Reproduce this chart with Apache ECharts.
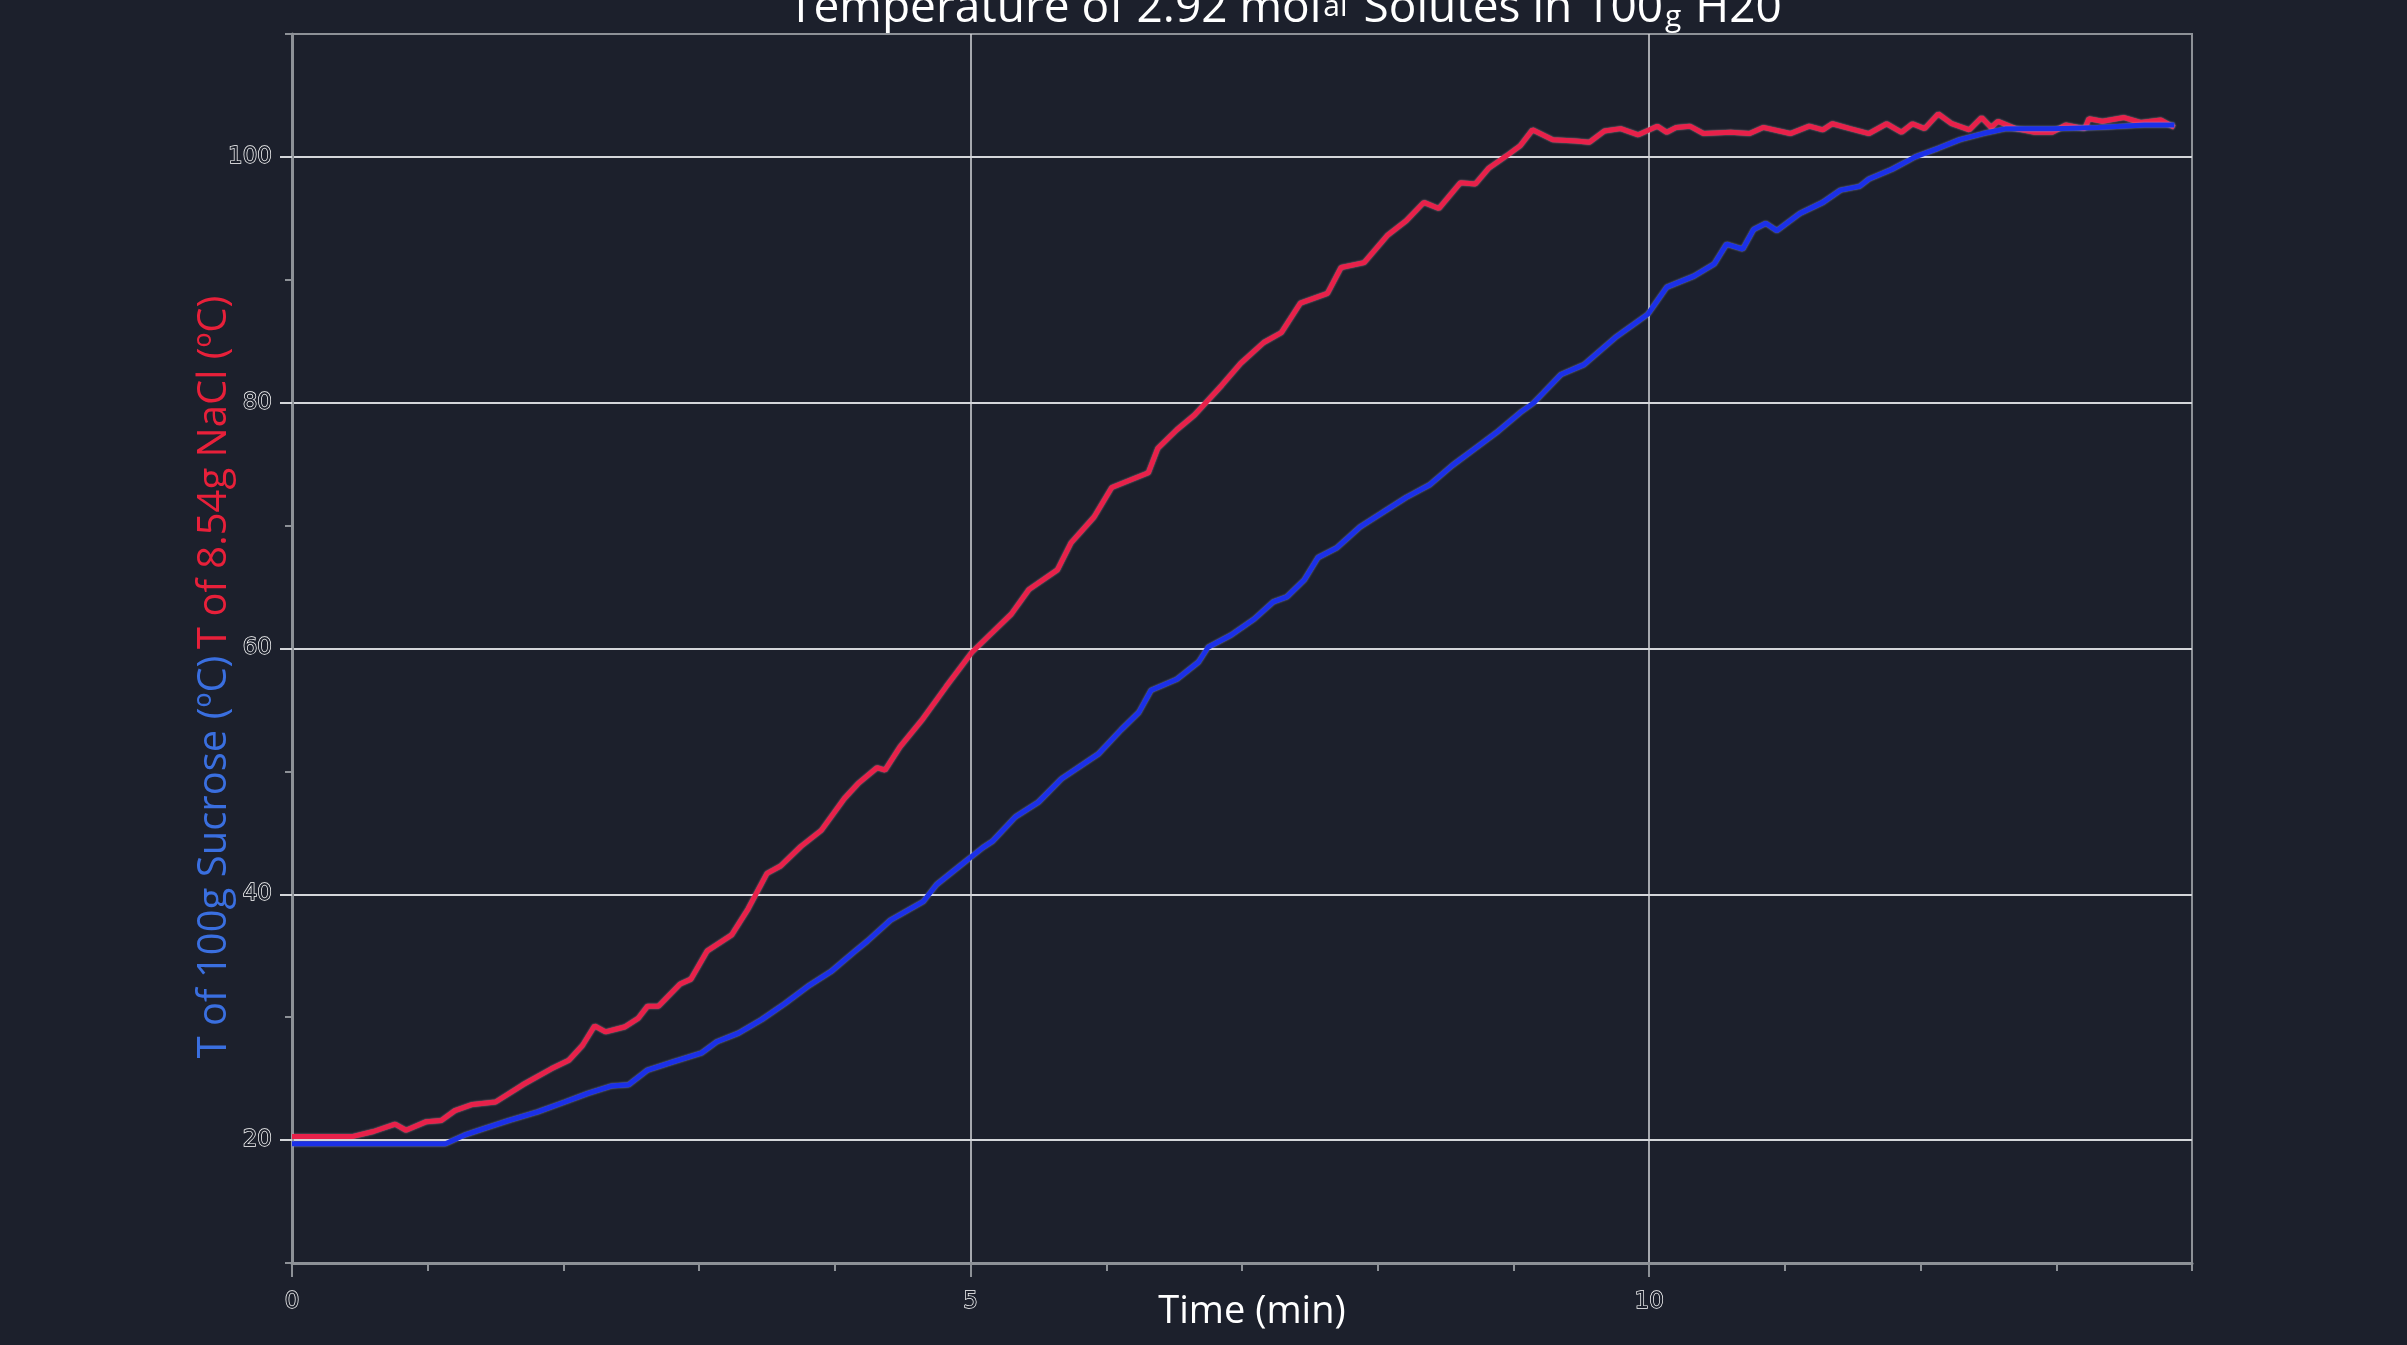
<!DOCTYPE html>
<html>
<head>
<meta charset="utf-8">
<script src="https://cdn.jsdelivr.net/npm/echarts@6/dist/echarts.min.js"></script>
<style>
html,body{margin:0;padding:0;background:#1c202c;}
#chart{width:2407px;height:1345px;}
</style>
</head>
<body>
<div id="chart"></div>
<script>
// ---- data (time in minutes, temperature in °C) ----
const naclTime = [0,0.2,0.45,0.6,0.76,0.84,0.99,1.1,1.2,1.33,1.5,1.7,1.91,2.04,2.14,2.23,2.31,2.45,2.55,2.62,2.7,2.86,2.94,3.06,3.24,3.36,3.5,3.6,3.75,3.9,4.07,4.17,4.31,4.37,4.48,4.65,4.82,5.01,5.16,5.3,5.43,5.64,5.74,5.91,6.04,6.31,6.38,6.52,6.65,6.85,6.99,7.16,7.29,7.43,7.63,7.73,7.9,8.07,8.21,8.34,8.45,8.61,8.72,8.82,8.95,9.05,9.14,9.29,9.46,9.56,9.67,9.79,9.92,10.06,10.13,10.2,10.3,10.4,10.6,10.74,10.84,11.04,11.18,11.28,11.35,11.48,11.62,11.75,11.86,11.94,12.03,12.13,12.23,12.36,12.45,12.52,12.57,12.7,12.84,12.97,13.07,13.21,13.24,13.34,13.5,13.62,13.77,13.87];
const naclTemp = [20.3,20.3,20.3,20.7,21.3,20.8,21.5,21.6,22.4,22.9,23.1,24.5,25.8,26.5,27.7,29.3,28.8,29.2,29.9,30.9,30.9,32.7,33.1,35.4,36.7,38.8,41.7,42.3,43.9,45.2,47.8,49.0,50.3,50.1,52.0,54.3,56.9,59.7,61.3,62.8,64.8,66.4,68.6,70.7,73.1,74.3,76.3,77.8,79.0,81.4,83.2,84.9,85.7,88.1,88.9,91.0,91.4,93.6,94.8,96.3,95.8,97.9,97.8,99.1,100.1,100.9,102.2,101.4,101.3,101.2,102.1,102.3,101.8,102.5,102.0,102.4,102.5,101.9,102.0,101.9,102.4,101.9,102.5,102.2,102.7,102.3,101.9,102.7,102.0,102.7,102.3,103.5,102.7,102.2,103.2,102.4,102.9,102.3,102.0,102.0,102.6,102.3,103.1,102.9,103.2,102.8,103.0,102.4];

const sucroseTime = [0,0.5,1.13,1.27,1.43,1.6,1.81,2.01,2.18,2.35,2.48,2.62,2.79,3.02,3.13,3.29,3.46,3.63,3.8,3.97,4.14,4.24,4.41,4.65,4.75,4.92,5.09,5.16,5.33,5.5,5.67,5.94,6.11,6.24,6.33,6.52,6.68,6.75,6.92,7.09,7.23,7.33,7.46,7.56,7.7,7.87,8.04,8.21,8.38,8.55,8.72,8.89,9.05,9.15,9.22,9.35,9.52,9.75,9.99,10.13,10.33,10.48,10.57,10.69,10.77,10.86,10.94,11.11,11.28,11.41,11.55,11.62,11.79,11.96,12.13,12.29,12.46,12.63,12.97,13.31,13.65,13.87];
const sucroseTemp = [19.7,19.7,19.7,20.4,21.0,21.6,22.3,23.1,23.8,24.4,24.5,25.7,26.3,27.1,28.0,28.7,29.8,31.1,32.5,33.7,35.3,36.2,37.9,39.4,40.8,42.3,43.8,44.3,46.3,47.5,49.4,51.4,53.4,54.8,56.6,57.5,58.9,60.1,61.1,62.4,63.8,64.2,65.6,67.4,68.2,69.9,71.1,72.3,73.3,74.9,76.3,77.7,79.2,80.0,80.8,82.3,83.1,85.3,87.2,89.4,90.3,91.3,92.9,92.5,94.1,94.6,94.0,95.4,96.3,97.3,97.6,98.2,99.0,100.0,100.7,101.4,101.9,102.3,102.3,102.4,102.6,102.6];

const xTickLabels = [0, 5, 10];
const yTickLabels = [20, 40, 60, 80, 100];

const titleParts = ['Temperature of 2.92 mol', 'al', ' Solutes in 100', 'g', ' H20'];
const xName = 'Time (min)';
const yNameSucrose = 'T of 100g Sucrose (ºC)';
const yNameNaCl = 'T of 8.54g NaCl (ºC)';

const BG = '#1c202c';
const AXIS = '#8d9197';
const GRID = '#d4d6da';
const RED = '#e8214a';
const BLUE = '#1b30e8';

function pairs(xs, ys) { return xs.map((x, i) => [x, ys[i]]); }

const outlined = {
  color: BG,
  textBorderColor: '#ffffff',
  textBorderWidth: 1.4,
  fontFamily: 'DejaVu Sans',
  fontSize: 23
};

const chart = echarts.init(document.getElementById('chart'), null, {renderer: 'canvas'});
chart.setOption({
  backgroundColor: BG,
  animation: false,
  grid: {left: 292, right: 215, top: 34, bottom: 82, show: true, borderColor: AXIS, borderWidth: 2, backgroundColor: 'transparent'},
  xAxis: [
    {
      type: 'value', min: 0, max: 14, interval: 1, position: 'bottom',
      axisLine: {show: true, lineStyle: {color: AXIS, width: 3}},
      axisTick: {show: true, length: 8, lineStyle: {color: AXIS, width: 2}},
      axisLabel: {show: false},
      splitLine: {show: false},
      name: xName, nameLocation: 'middle', nameGap: 30,
      nameTextStyle: {color: '#ffffff', fontSize: 38, fontFamily: 'Open Sans', padding: [0, 0, 0, 20]}
    },
    {
      type: 'value', min: 0, max: 14, position: 'bottom',
      axisLine: {show: false},
      axisTick: {show: true, customValues: xTickLabels, length: 14, lineStyle: {color: AXIS, width: 2}},
      axisLabel: Object.assign({customValues: xTickLabels, margin: 28}, outlined),
      splitLine: {show: true, lineStyle: {color: GRID, width: 1.5}}
    }
  ],
  yAxis: [
    {
      type: 'value', min: 10, max: 110, interval: 10, position: 'left',
      axisLine: {show: true, lineStyle: {color: AXIS, width: 3}},
      axisTick: {show: true, length: 7, lineStyle: {color: AXIS, width: 2}},
      axisLabel: {show: false},
      splitLine: {show: false}
    },
    {
      type: 'value', min: 10, max: 110, position: 'left',
      axisLine: {show: false},
      axisTick: {show: true, customValues: yTickLabels, length: 12, lineStyle: {color: GRID, width: 2}},
      axisLabel: Object.assign({customValues: yTickLabels, margin: 20}, outlined),
      splitLine: {show: true, lineStyle: {color: GRID, width: 2}}
    }
  ],
  graphic: [
    {
      type: 'text', x: 1285, y: -14,
      style: {
        text: '{n|' + titleParts[0] + '}{s|' + titleParts[1] + '}{n|' + titleParts[2] + '}{g|' + titleParts[3] + '}{n|' + titleParts[4] + '}',
        align: 'center', verticalAlign: 'top',
        rich: {
          n: {fontSize: 46, fontFamily: 'Open Sans', fill: '#ffffff', verticalAlign: 'bottom'},
          s: {fontSize: 30, fontFamily: 'Open Sans', fill: '#ffffff', verticalAlign: 'top', padding: [6, 4, 0, 2]},
          g: {fontSize: 30, fontFamily: 'Open Sans', fill: '#ffffff', verticalAlign: 'bottom', padding: [0, 2, 0, 2]}
        }
      }
    },
    {
      type: 'text', x: 215, y: 677, rotation: Math.PI / 2,
      style: {
        text: '{b|' + yNameSucrose + '}  {r|' + yNameNaCl + '}',
        align: 'center', verticalAlign: 'middle',
        rich: {
          b: {fontSize: 40, fontFamily: 'Open Sans', fill: '#3a6fe0'},
          r: {fontSize: 40, fontFamily: 'Open Sans', fill: '#e8203a'}
        }
      }
    }
  ],
  series: [
    {
      name: 'NaCl', type: 'line', xAxisIndex: 0, yAxisIndex: 0,
      data: pairs(naclTime, naclTemp), showSymbol: false, smooth: false,
      lineStyle: {color: RED, width: 5, shadowColor: 'rgba(255,200,210,0.6)', shadowBlur: 2}
    },
    {
      name: 'Sucrose', type: 'line', xAxisIndex: 0, yAxisIndex: 0,
      data: pairs(sucroseTime, sucroseTemp), showSymbol: false, smooth: false,
      lineStyle: {color: BLUE, width: 5, shadowColor: 'rgba(200,210,255,0.6)', shadowBlur: 2}
    }
  ]
});
</script>
</body>
</html>
